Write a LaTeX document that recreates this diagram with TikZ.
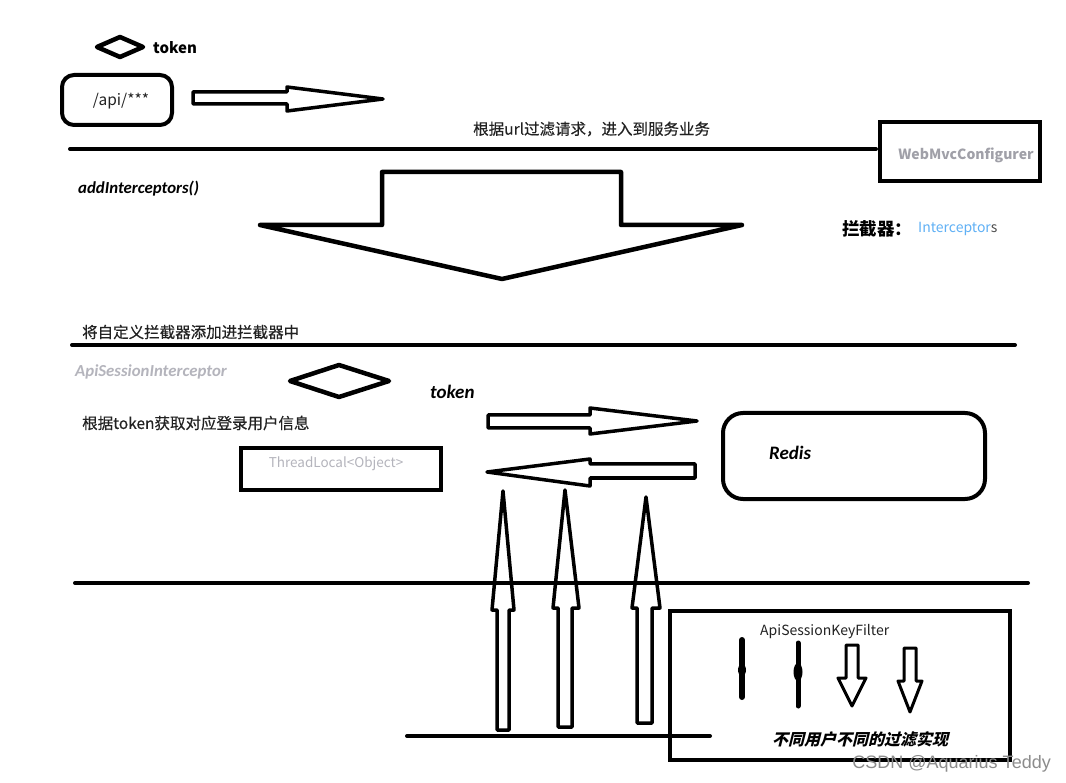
\documentclass[tikz,border=0pt]{standalone}
\usepackage{fontspec}
\setmainfont{Noto Sans CJK SC}
\newfontfamily\carl{Carlito}
\newfontfamily\cjksl[FakeSlant=0.25]{Noto Sans CJK SC}
\newfontfamily\cjkdark[FakeBold=0.4]{Noto Sans CJK SC}
\newfontfamily\wmfont{Liberation Sans}
\definecolor{lightgraytxt}{HTML}{B4B4BC}
\definecolor{midgraytxt}{HTML}{A0A0A8}
\definecolor{bluetxt}{HTML}{5FB0F5}
\definecolor{darktxt}{HTML}{222222}
\begin{document}
\begin{tikzpicture}[x=1pt,y=-1pt,
  heavy/.style={line width=4pt, line cap=round},
  outline/.style={draw, line width=3.5pt, line join=round},
  boxnode/.style={draw, line width=4pt, inner sep=0pt},
  txt/.style={inner sep=0pt, anchor=west},
  cjktxt/.style={txt, font=\fontsize{15.5}{15.5}\cjkdark, text=darktxt},
]
\useasboundingbox[fill=white] (0,0) rectangle (1066,783);

% top diamond and token
\draw[line width=4.5pt, line join=round] (97,47) -- (120,37) -- (143,47) -- (120,57) -- cycle;
\node[txt, font=\fontsize{15}{15}\selectfont\bfseries] (tok1) at (153,48) {token};

% /api/*** box
\node[boxnode, rounded corners=12pt, minimum width=110pt, minimum height=50pt] (api) at (117,100) {};
\node[font=\fontsize{15.5}{15.5}\selectfont, text=darktxt, inner sep=0pt] (apitxt) at (121,101) {/api/***};

% hollow right arrow
\draw[outline] (193,92) -- (287,92) -- (287,87) -- (383,99) -- (287,111) -- (287,104) -- (193,104) -- cycle;

\node[cjktxt] (t1) at (473,129) {根据url过滤请求，进入到服务业务};

% line 1
\coordinate (l1a) at (70,149); \coordinate (l1b) at (876,149);
\draw[heavy] (l1a) -- (l1b);

% WebMvcConfigurer box
\node[boxnode, minimum width=160pt, minimum height=59pt] (wmc) at (960,151.5) {};
\node[font=\fontsize{14}{14}\selectfont\bfseries, text=midgraytxt, inner sep=0pt] (wmctxt) at (966,155) {WebMvcConfigurer};

\node[txt, font=\fontsize{16.8}{16.8}\carl\bfseries\itshape] (addi) at (78,189) {addInterceptors()};

% big down arrow
\draw[outline, line width=4.5pt] (382,172) -- (621,172) -- (621,225) -- (742,225) -- (502,279) -- (260,225) -- (382,225) -- cycle;

\node[txt, font=\fontsize{17.5}{17.5}\selectfont\bfseries] (lanj) at (842,229) {拦截器：};
\node[txt, font=\fontsize{14}{14}\selectfont] (intc) at (918,229) {\textcolor{bluetxt}{Interceptor}\textcolor{darktxt!80}{s}};

\node[cjktxt] (t2) at (82,332) {将自定义拦截器添加进拦截器中};

% line 2
\coordinate (l2a) at (72,345); \coordinate (l2b) at (1015,345);
\draw[heavy] (l2a) -- (l2b);

\node[txt, font=\fontsize{16.8}{16.8}\carl\bfseries\itshape, text=lightgraytxt] (asi) at (75,372) {ApiSessionInterceptor};

% second diamond and token
\draw[line width=4.5pt, line join=round] (290,381) -- (339,365) -- (389,381) -- (339,397) -- cycle;
\node[txt, font=\fontsize{19}{19}\carl\bfseries\itshape] (tok2) at (430,392) {token};

\node[cjktxt] (t3) at (82,423) {根据token获取对应登录用户信息};

% arrows to/from Redis
\draw[outline] (488,415) -- (590,415) -- (590,408) -- (697,421) -- (590,434) -- (590,428) -- (488,428) -- cycle;
\draw[outline] (695,464) -- (590,464) -- (590,459) -- (487,472) -- (590,486) -- (590,478) -- (695,478) -- cycle;

% ThreadLocal box
\node[boxnode, minimum width=200pt, minimum height=42pt] (tl) at (341,469) {};
\node[font=\fontsize{13.5}{13.5}\selectfont, text=lightgraytxt, inner sep=0pt] (tltxt) at (336,464) {ThreadLocal<Object>};

% Redis box
\node[boxnode, rounded corners=20pt, minimum width=262pt, minimum height=86pt] (redis) at (854,456) {};
\node[txt, font=\fontsize{19}{19}\carl\bfseries\itshape] (redistxt) at (769,453) {Redis};

% line 3
\coordinate (l3a) at (75,583); \coordinate (l3b) at (1028,583);
\draw[heavy] (l3a) -- (l3b);

% three up arrows
\draw[outline] (497,730) -- (497,610) -- (492,610) -- (503,491) -- (514,610) -- (509,610) -- (509,730) -- cycle;
\draw[outline] (558,727) -- (558,608) -- (553,608) -- (565,490) -- (579,608) -- (572,608) -- (572,727) -- cycle;
\draw[outline] (637,723) -- (637,608) -- (632,608) -- (646,497) -- (660,608) -- (652,608) -- (652,723) -- cycle;

% line 4
\coordinate (l4a) at (407,736); \coordinate (l4b) at (710,736);
\draw[heavy] (l4a) -- (l4b);

% filter box
\node[boxnode, minimum width=340pt, minimum height=149pt] (flt) at (840,685.5) {};
\node[txt, font=\fontsize{14}{14}\selectfont, text=darktxt] (flttxt) at (760,632) {ApiSessionKeyFilter};

% small down arrows
\draw[line width=6pt, line cap=round] (742,640) -- (742,697);
\fill (742,670) ellipse (4pt and 6pt);
\draw[line width=5pt, line cap=round] (798,643) -- (798,706);
\fill (798,672) ellipse (4.5pt and 9pt);
\draw[outline, line width=3pt] (846,645) -- (858,645) -- (858,678) -- (866,678) -- (852,706) -- (838,678) -- (846,678) -- cycle;
\draw[outline, line width=3pt] (904,648) -- (916,648) -- (916,681) -- (922,681) -- (910,712) -- (898,681) -- (904,681) -- cycle;

\node[txt, font=\fontsize{16}{16}\cjksl\bfseries] (diff) at (772,739) {不同用户不同的过滤实现};

% watermark
\node[anchor=east, inner sep=0pt, font=\fontsize{18}{18}\wmfont, text=black!45] (wm) at (1051,764) {CSDN @Aquarius Teddy};
\end{tikzpicture}
\end{document}
